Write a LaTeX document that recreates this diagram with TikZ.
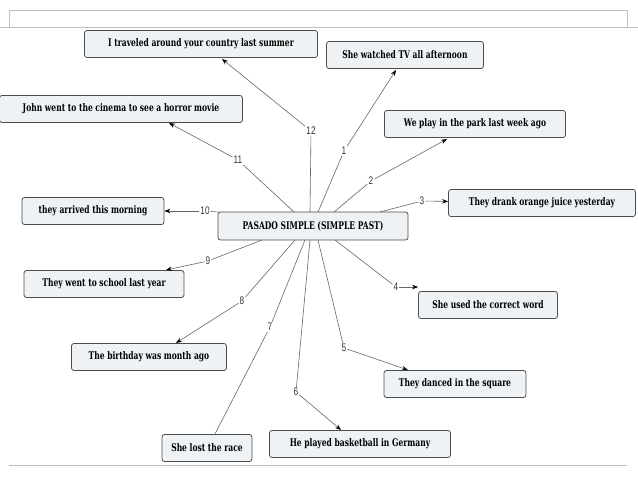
\documentclass[tikz,border=0pt]{standalone}
\usepackage{fontspec}
\setmainfont{DejaVu Serif}[FakeStretch=0.72]
\newfontfamily\numfont{Liberation Sans}[FakeStretch=0.75]
\usetikzlibrary{arrows.meta}
\begin{document}
\begin{tikzpicture}[x=1pt,y=-1pt,
  box/.style={draw=black!70,fill={rgb,255:red,238;green,242;blue,245},rounded corners=2.5pt,line width=0.8pt,font=\bfseries\fontsize{10.5}{12}\selectfont,inner sep=0pt,minimum height=27pt},
  num/.style={font=\numfont\fontsize{11}{12}\selectfont,inner sep=1pt,text=black!80},
  ln/.style={draw=black!60,line width=0.6pt},
  ar/.style={ln,-{Stealth[length=6pt,width=4.5pt,black]}}]
\useasboundingbox (0,0) rectangle (638,478);
\draw[black!25,line width=0.7pt] (9,27) -- (9,10) -- (627,10) -- (627,27);
\draw[black!25,line width=0.7pt] (0,27) -- (638,27);
\draw[black!25,line width=0.7pt] (9,465) -- (627,465);
\node[box,minimum width=190pt,minimum height=28pt] (c) at (313,226) {PASADO SIMPLE (SIMPLE PAST)};
\node[box,minimum width=233pt] (a12) at (201,44) {I traveled around your country last summer};
\node[box,minimum width=157pt] (a1) at (405,55) {She watched TV all afternoon};
\node[box,minimum width=181pt] (a2) at (475,124) {We play in the park last week ago};
\node[box,minimum width=187pt] (a3) at (542,203) {They drank orange juice yesterday};
\node[box,minimum width=139pt] (a4) at (488,305) {She used the correct word};
\node[box,minimum width=142pt] (a5) at (455,384) {They danced in the square};
\node[box,minimum width=181pt] (a6) at (360,444) {He played basketball in Germany};
\node[box,minimum width=90pt] (a7) at (207,448) {She lost the race};
\node[box,minimum width=155pt] (a8) at (149,357) {The birthday was month ago};
\node[box,minimum width=160pt] (a9) at (104,284) {They went to school last year};
\node[box,minimum width=142pt] (a10) at (93,211) {they arrived this morning};
\node[box,minimum width=243pt] (a11) at (121,109) {John went to the cinema to see a horror movie};
\node[num] (l12) at (311,131) {12};
\node[num] (l1) at (344,151) {1};
\node[num] (l2) at (371,181) {2};
\node[num] (l3) at (422,201) {3};
\node[num] (l4) at (396,287) {4};
\node[num] (l5) at (344,348) {5};
\node[num] (l6) at (296,392) {6};
\node[num] (l7) at (270,327) {7};
\node[num] (l8) at (242,301) {8};
\node[num] (l9) at (208,261) {9};
\node[num] (l10) at (205,211) {10};
\node[num] (l11) at (238,160) {11};
\coordinate (s12) at (310,212); \coordinate (s1) at (318,212);
\coordinate (s2) at (334,212); \coordinate (s3) at (380,212);
\coordinate (s4) at (335,240); \coordinate (s5) at (318,240);
\coordinate (s6) at (310,240); \coordinate (s7) at (305,240);
\coordinate (s8) at (295,240); \coordinate (s9) at (262,240);
\coordinate (s10) at (218,212); \coordinate (s11) at (294,212);
\foreach \i in {12,1,2,3,4,5,6,7,8,9,10,11}{\draw[ln] (s\i) -- (l\i);}
\draw[ar] (l12) -- (222,59);
\draw[ar] (l1) -- (396,70);
\draw[ar] (l2) -- (447,139);
\draw[ar] (l3) -- (a3);
\draw[ar] (l4) -- (a4.west|-l4) ;
\draw[ar] (l5) -- (408,370);
\draw[ar] (l6) -- (341,430);
\draw[ln] (l7) -- (215,434);
\draw[ar] (l8) -- (176,343);
\draw[ar] (l9) -- (166,270);
\draw[ar] (l10) -- (a10);
\draw[ar] (l11) -- (169,123);
\end{tikzpicture}
\end{document}
